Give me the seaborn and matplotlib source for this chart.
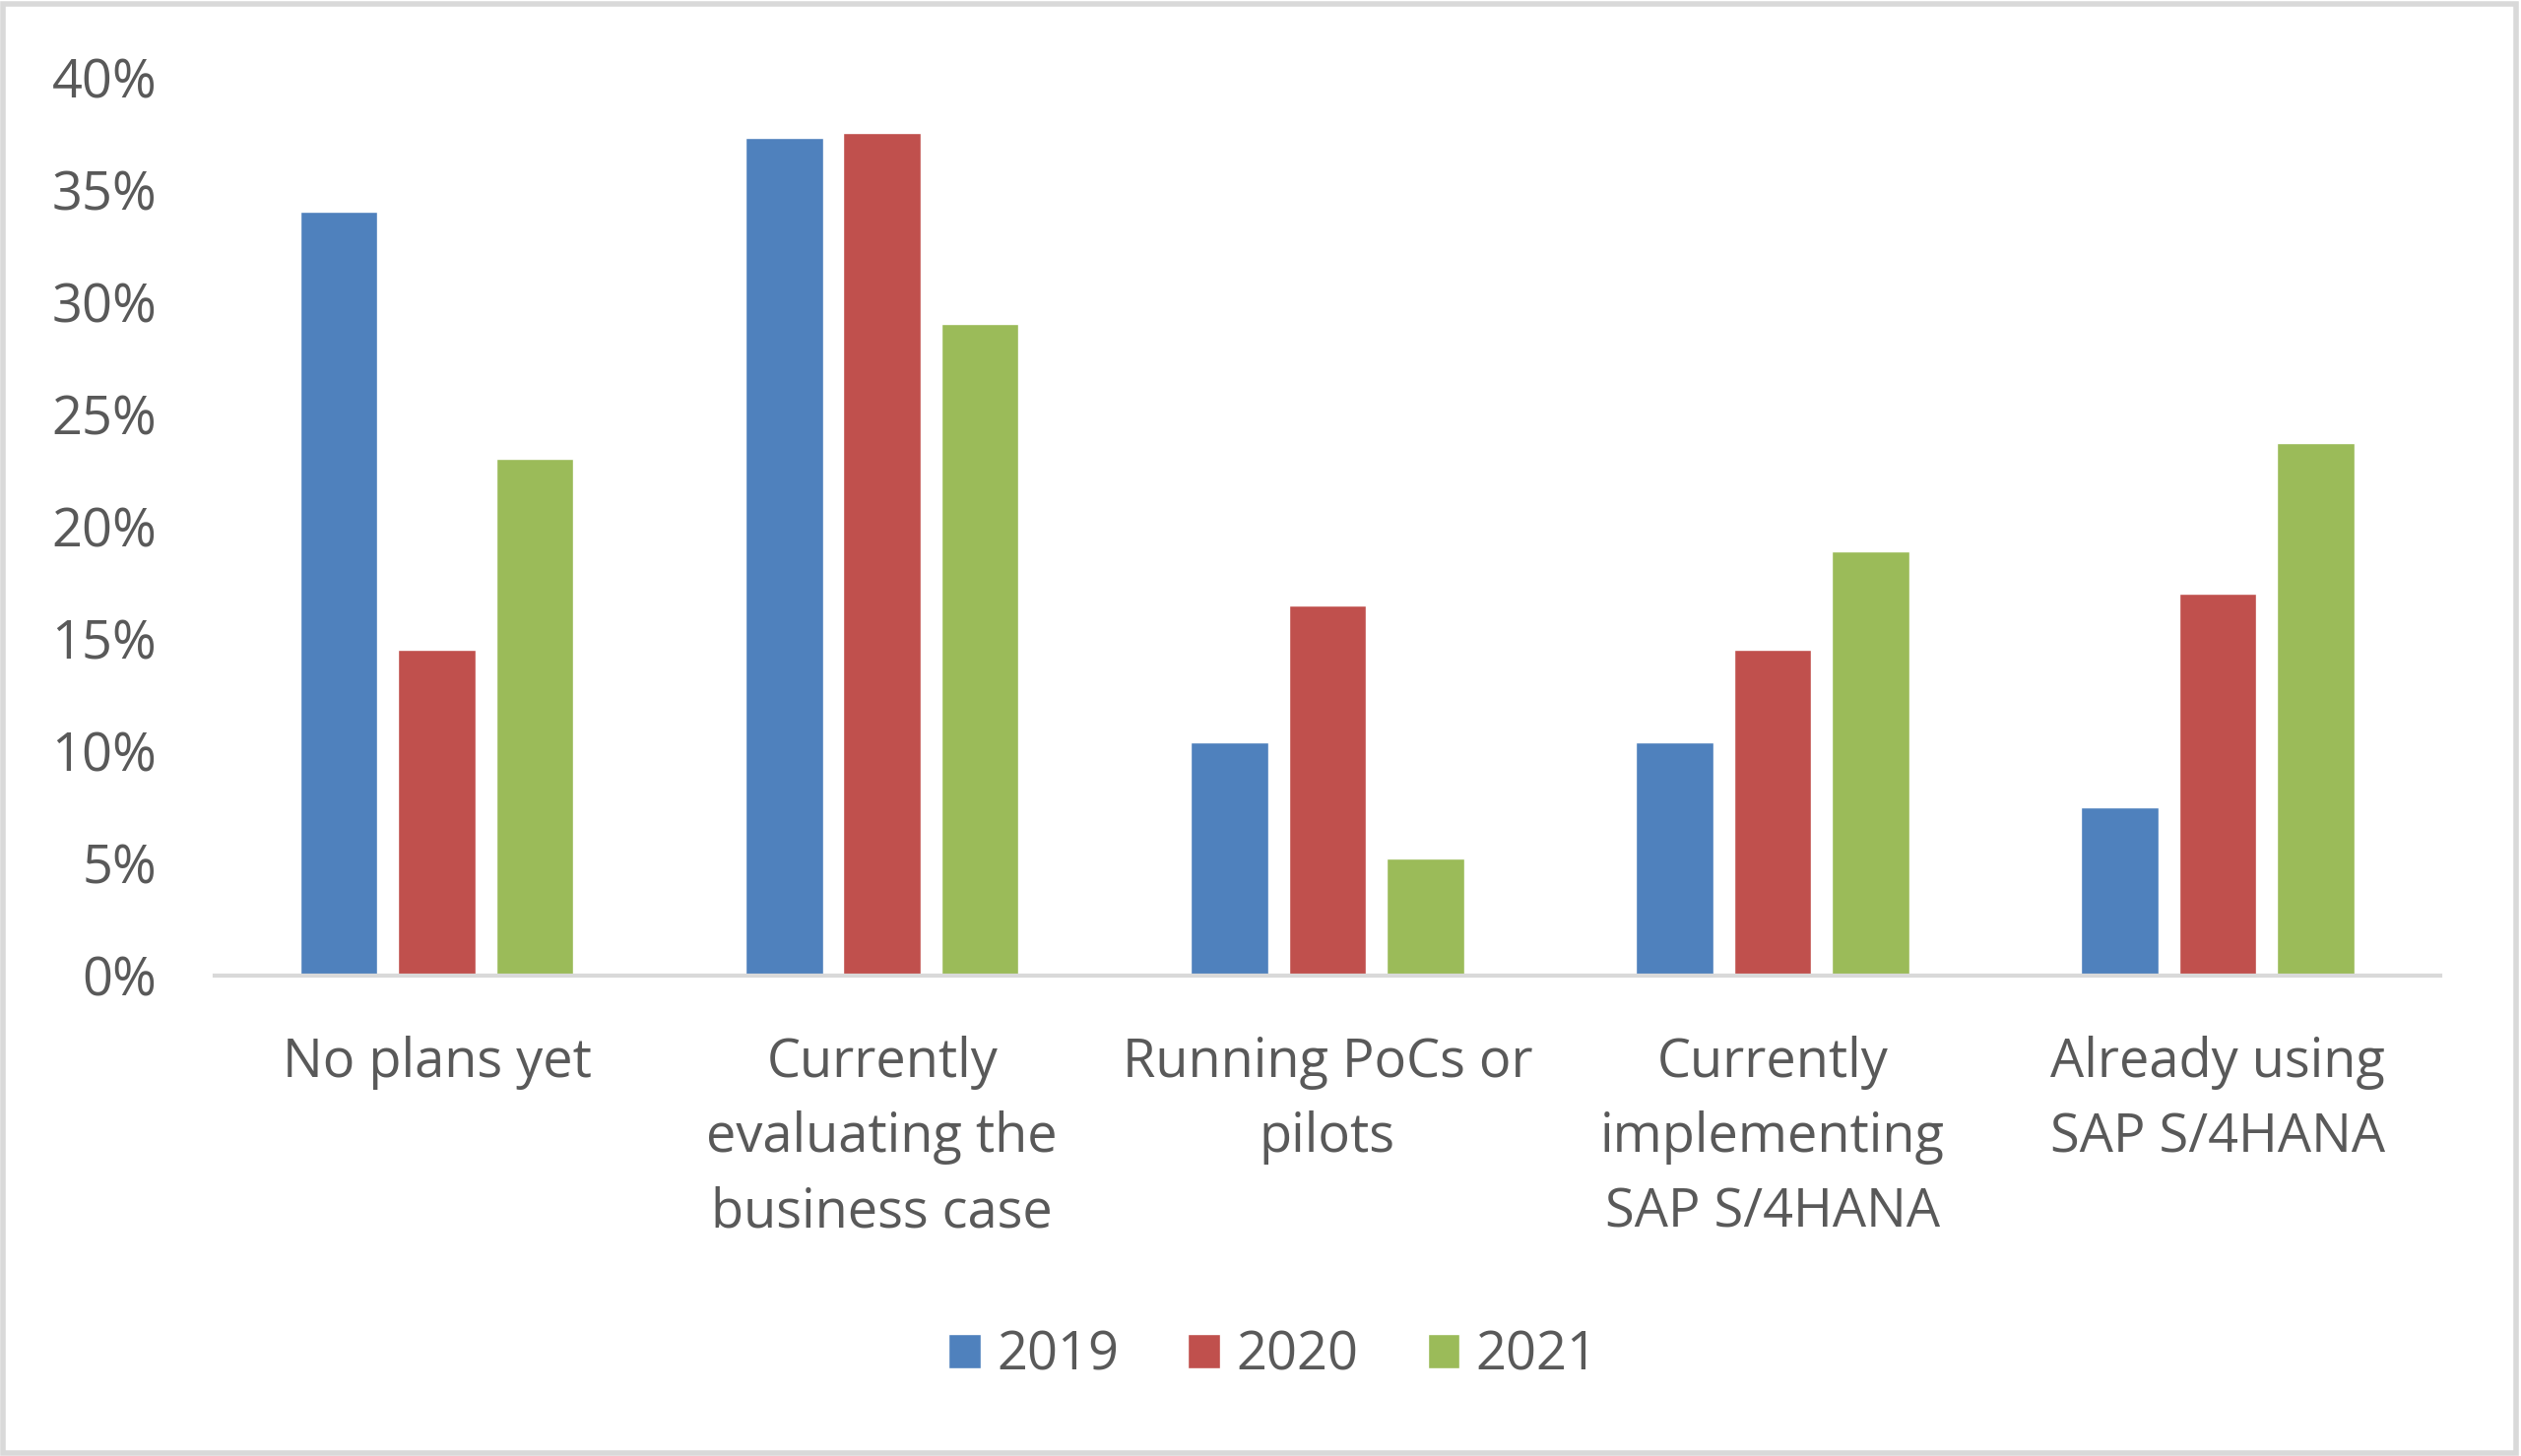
import pandas as pd
import matplotlib.pyplot as plt
import seaborn as sns
from matplotlib.patches import Rectangle
from matplotlib.ticker import FuncFormatter

# Data (percent of respondents)
categories = ["No plans yet",
              "Currently\nevaluating the\nbusiness case",
              "Running PoCs or\npilots",
              "Currently\nimplementing\nSAP S/4HANA",
              "Already using\nSAP S/4HANA"]
years = ["2019", "2020", "2021"]
v2019 = [34.0, 37.3, 10.4, 10.4, 7.5]
v2020 = [14.5, 37.5, 16.5, 14.5, 17.0]
v2021 = [23.0, 29.0, 5.2, 18.9, 23.7]

df = pd.DataFrame({
    "category": categories * 3,
    "year": [y for y in years for _ in categories],
    "value": v2019 + v2020 + v2021,
})

palette = {"2019": "#4F81BD", "2020": "#C0504D", "2021": "#9BBB59"}
text_col = "#595959"

sns.set_style("white")
plt.rcParams['font.family'] = ['Open Sans', 'DejaVu Sans']

fig = plt.figure(figsize=(25.6, 14.79), dpi=100)
ax = fig.add_axes([0.085, 0.33, 0.883, 0.617])

sns.barplot(data=df, x="category", y="value", hue="year", order=categories,
            hue_order=years, palette=palette, width=0.66, gap=0.21,
            saturation=1, ax=ax)

ax.set_ylim(0, 40)
ax.set_xlim(-0.5, 4.5)
ax.set_yticks(range(0, 41, 5))
ax.yaxis.set_major_formatter(FuncFormatter(lambda v, p: f"{v:.0f}%"))
ax.set_xlabel("")
ax.set_ylabel("")
ax.tick_params(axis='y', length=0, pad=42, labelsize=39, labelcolor=text_col)
ax.tick_params(axis='x', length=0, pad=44, labelsize=39, labelcolor=text_col)
for lab in ax.get_xticklabels():
    lab.set_linespacing(1.5)

for s in ['top', 'right', 'left']:
    ax.spines[s].set_visible(False)
ax.spines['bottom'].set_color('#D9D9D9')
ax.spines['bottom'].set_linewidth(3)

handles, labels = ax.get_legend_handles_labels()
ax.get_legend().remove()
leg = fig.legend(handles, labels, loc='center', bbox_to_anchor=(0.505, 0.069), ncol=3,
                 frameon=False, fontsize=39, handlelength=0.6, handleheight=0.6,
                 handletextpad=0.3, columnspacing=1.3)
for t in leg.get_texts():
    t.set_color(text_col)

# outer chart border
fig.add_artist(Rectangle((0.001, 0.002), 0.997, 0.995, transform=fig.transFigure,
                         fill=False, edgecolor='#D9D9D9', linewidth=4))

fig.savefig("out.png", dpi=100, facecolor='white')
